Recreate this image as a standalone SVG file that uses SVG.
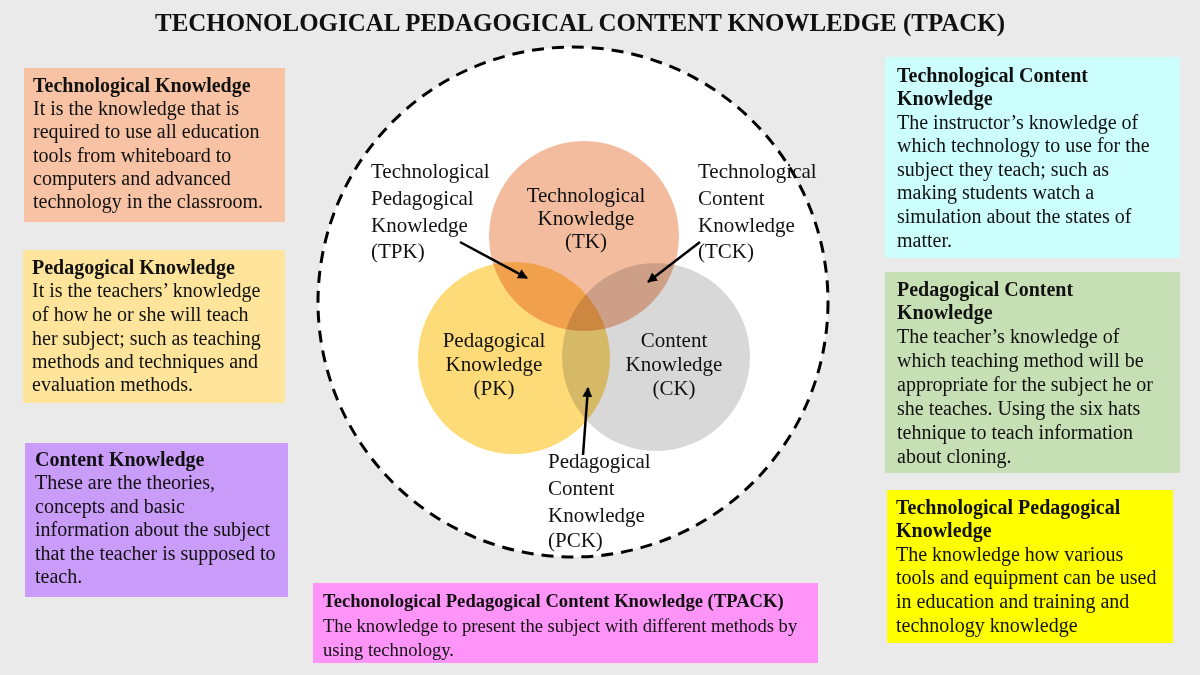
<svg xmlns="http://www.w3.org/2000/svg" width="1200" height="675" viewBox="0 0 1200 675">
<defs>
<marker id="ah" viewBox="0 0 10 10" refX="9" refY="5" markerWidth="4" markerHeight="4" orient="auto-start-reverse" markerUnits="strokeWidth">
<path d="M0,0 L10,5 L0,10 z" fill="#000"/>
</marker>
</defs>
<style>
text{font-family:"Liberation Serif","Times New Roman",serif;fill:#111}
.bt{font-size:20px}
.bs{font-size:18.6px}
.b{font-weight:bold}
.lb{font-size:21px}
.c{text-anchor:middle}
.vc{mix-blend-mode:multiply}
.arr{stroke:#000;stroke-width:2.5;fill:none;marker-end:url(#ah)}
</style>
<rect width="1200" height="675" fill="#EAEAEA"/>
<text id="title" x="580" y="31" font-size="25" font-weight="bold" text-anchor="middle" textLength="850" lengthAdjust="spacingAndGlyphs">TECHONOLOGICAL PEDAGOGICAL CONTENT KNOWLEDGE (TPACK)</text>

<g id="outer">
<circle cx="573" cy="302" r="255" fill="#FFFFFF" stroke="#000" stroke-width="3" stroke-dasharray="12 8"/>
</g>

<g id="venn" style="isolation:isolate">
<circle id="tk" class="vc" cx="584" cy="236" r="95" fill="#F3BC9F"/>
<circle id="pk" class="vc" cx="514" cy="358" r="96" fill="#FDDB78"/>
<circle id="ck" class="vc" cx="656" cy="357" r="94" fill="#D8D8D8"/>
</g>

<g id="venn-labels" class="lb">
<text class="c" x="586" y="202">Technological</text>
<text class="c" x="586" y="225">Knowledge</text>
<text class="c" x="586" y="248">(TK)</text>
<text class="c" x="494" y="347">Pedagogical</text>
<text class="c" x="494" y="371">Knowledge</text>
<text class="c" x="494" y="395">(PK)</text>
<text class="c" x="674" y="347">Content</text>
<text class="c" x="674" y="371">Knowledge</text>
<text class="c" x="674" y="395">(CK)</text>
</g>

<g id="tpk-label" class="lb">
<text x="371" y="178">Technological</text>
<text x="371" y="205">Pedagogical</text>
<text x="371" y="232">Knowledge</text>
<text x="371" y="258">(TPK)</text>
</g>
<g id="tck-label" class="lb">
<text x="698" y="178">Technological</text>
<text x="698" y="205">Content</text>
<text x="698" y="232">Knowledge</text>
<text x="698" y="258">(TCK)</text>
</g>
<g id="pck-label" class="lb">
<text x="548" y="468">Pedagogical</text>
<text x="548" y="495">Content</text>
<text x="548" y="522">Knowledge</text>
<text x="548" y="547">(PCK)</text>
</g>

<g id="connectors">
<line class="arr" x1="460" y1="242" x2="527" y2="278"/>
<line class="arr" x1="700" y1="242" x2="648" y2="282"/>
<line class="arr" x1="583" y1="455" x2="588" y2="388"/>
</g>

<g id="box-tk" class="bt">
<rect x="24" y="68" width="261" height="154" fill="#F8C3A4"/>
<text class="b" x="33" y="92">Technological Knowledge</text>
<text x="33" y="115">It is the knowledge that is</text>
<text x="33" y="138">required to use all education</text>
<text x="33" y="162">tools from whiteboard to</text>
<text x="33" y="185">computers and advanced</text>
<text x="33" y="208">technology in the classroom.</text>
</g>

<g id="box-pk" class="bt">
<rect x="23" y="250" width="262" height="153" fill="#FEE59B"/>
<text class="b" x="32" y="274">Pedagogical Knowledge</text>
<text x="32" y="297">It is the teachers’ knowledge</text>
<text x="32" y="321">of how he or she will teach</text>
<text x="32" y="345">her subject; such as teaching</text>
<text x="32" y="368">methods and techniques and</text>
<text x="32" y="391">evaluation methods.</text>
</g>

<g id="box-ck" class="bt">
<rect x="25" y="443" width="263" height="154" fill="#C99CF9"/>
<text class="b" x="35" y="466">Content Knowledge</text>
<text x="35" y="489">These are the theories,</text>
<text x="35" y="513">concepts and basic</text>
<text x="35" y="536">information about the subject</text>
<text x="35" y="560">that the teacher is supposed to</text>
<text x="35" y="583">teach.</text>
</g>

<g id="box-tck" class="bt">
<rect x="885" y="57" width="295" height="201" fill="#CCFEFE"/>
<text class="b" x="897" y="82">Technological Content</text>
<text class="b" x="897" y="105">Knowledge</text>
<text x="897" y="129">The instructor’s knowledge of</text>
<text x="897" y="152">which technology to use for the</text>
<text x="897" y="176">subject they teach; such as</text>
<text x="897" y="199">making students watch a</text>
<text x="897" y="223">simulation about the states of</text>
<text x="897" y="247">matter.</text>
</g>

<g id="box-pck" class="bt">
<rect x="885" y="272" width="295" height="201" fill="#C6DFB4"/>
<text class="b" x="897" y="296">Pedagogical Content</text>
<text class="b" x="897" y="319">Knowledge</text>
<text x="897" y="343">The teacher’s knowledge of</text>
<text x="897" y="367">which teaching method will be</text>
<text x="897" y="391">appropriate for the subject he or</text>
<text x="897" y="415">she teaches. Using the six hats</text>
<text x="897" y="439">tehnique to teach information</text>
<text x="897" y="463">about cloning.</text>
</g>

<g id="box-tpk" class="bt">
<rect x="887" y="490" width="286" height="153" fill="#FFFF00"/>
<text class="b" x="896" y="514">Technological Pedagogical</text>
<text class="b" x="896" y="537">Knowledge</text>
<text x="896" y="561">The knowledge how various</text>
<text x="896" y="584">tools and equipment can be used</text>
<text x="896" y="608">in education and training and</text>
<text x="896" y="632">technology knowledge</text>
</g>

<g id="box-tpack" class="bs">
<rect x="313" y="583" width="505" height="80" fill="#FE94F8"/>
<text class="b" x="323" y="607">Techonological Pedagogical Content Knowledge (TPACK)</text>
<text x="323" y="632">The knowledge to present the subject with different methods by</text>
<text x="323" y="656">using technology.</text>
</g>
</svg>
